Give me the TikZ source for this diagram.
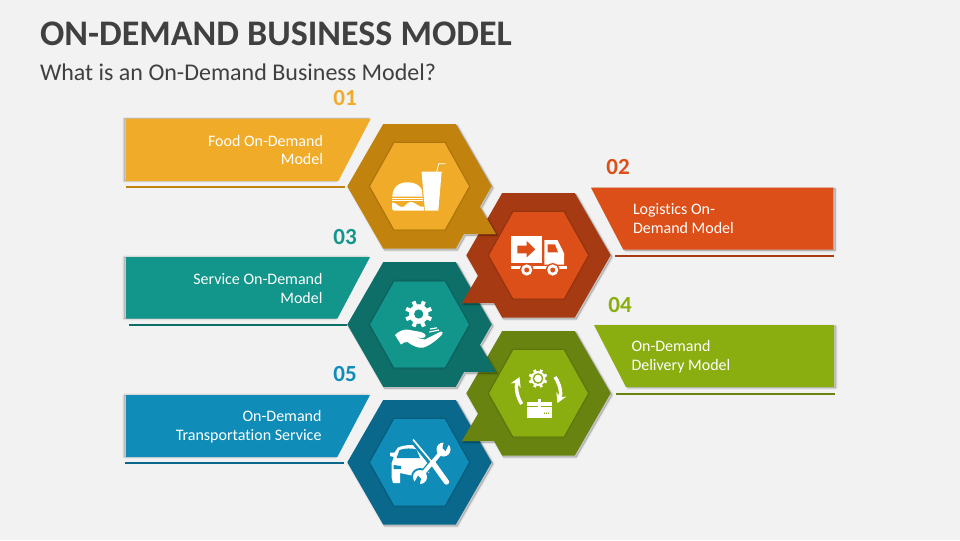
\documentclass[tikz,border=0pt]{standalone}
\usepackage{fontspec}
\setmainfont[Ligatures=NoCommon]{Carlito}
\usetikzlibrary{arrows.meta}

\definecolor{pagebg}{HTML}{F2F2F2}
\definecolor{titlegrey}{HTML}{404040}
\definecolor{amberlt}{HTML}{F0AB28}
\definecolor{amberdk}{HTML}{C2830E}
\definecolor{rustlt}{HTML}{DC4F19}
\definecolor{rustdk}{HTML}{A63A12}
\definecolor{teallt}{HTML}{12958A}
\definecolor{tealdk}{HTML}{0E6E68}
\definecolor{limelt}{HTML}{8AAD10}
\definecolor{limedk}{HTML}{688310}
\definecolor{bluelt}{HTML}{0F8DB8}
\definecolor{bluedk}{HTML}{09688B}

\tikzset{
  every picture/.style={line width=0.75pt},
  softwide/.style={draw=black,opacity=0.05,line width=2.4pt,line join=round},
  softnarrow/.style={draw=black,fill=black,opacity=0.14,line width=0.7pt,line join=round},
  numlabel/.style={font=\fontsize{17.3}{17.3}\selectfont\bfseries},
  leftlabel/.style={font=\fontsize{12}{14.2}\selectfont,text=white,align=right,anchor=east,inner sep=0pt},
  rightlabel/.style={font=\fontsize{12}{14.2}\selectfont,text=white,align=left,anchor=west,inner sep=0pt},
  underline/.style={line width=1.4pt},
}

% shadow offset, fill colour, path
\newcommand{\softshape}[3]{
  \draw[softwide,shift={(#1)}] #3;
  \draw[softnarrow,shift={(#1)}] #3;
  \fill[#2] #3;
}
\newcommand{\innerhex}[1]{
  \softshape{0,0}{#1}{(-49.5,0) -- (-25.3,-43.2) -- (25.3,-43.2) -- (49.5,0) -- (25.3,43.2) -- (-25.3,43.2) -- cycle}
}
% centre x, centre y, side of the tail (1 right, -1 left), outer colour, inner colour
\newcommand{\hexcell}[5]{
  \begin{scope}[shift={(#1,#2)},xscale=#3]
    \softshape{1.5*#3,1.5}{#4}{(-72.2,0) -- (-36.3,-62.3) -- (36.3,-62.3) -- (72.2,0) -- (60.5,20.4) -- (76.5,47.7) -- (44.5,47.7) -- (36.3,62.3) -- (-36.3,62.3) -- cycle}
    \innerhex{#5}
  \end{scope}
}
% centre x, centre y, tooth radius, body radius, hole radius, colour of the hole
\newcommand{\gearicon}[6]{
  \begin{scope}[shift={(#1,#2)}]
    \fill[white] (0,0) circle (#4);
    \foreach \ang in {0,45,...,315}
      \draw[draw=white,line width=#3*0.22pt] (\ang+22.5:#4-1) -- (\ang+22.5:#3);
    \fill[#6] (0,0) circle (#5);
  \end{scope}
}

\begin{document}
\begin{tikzpicture}[x=0.75pt,y=0.75pt,yscale=-1]
  \useasboundingbox (0,0) rectangle (960,540);
  \fill[pagebg] (0,0) rectangle (960,540);

  % Text Node
  \node[anchor=base west,inner sep=0pt,text=titlegrey,font=\fontsize{27}{27}\selectfont\bfseries] (title) at (39.5,45) {ON-DEMAND BUSINESS MODEL};
  % Text Node
  \node[anchor=base west,inner sep=0pt,text=titlegrey,font=\fontsize{18}{18}\selectfont] (subtitle) at (39.5,80.5) {What is an On-Demand Business Model?};

  %Shape: left bars
  \softshape{-2,0}{amberlt}{(126,118.7) -- (370.7,118.7) -- (338.3,181) -- (126,181) -- cycle}
  \draw[underline,amberdk] (126,186.7) -- (345,186.7);
  \softshape{-2,0}{teallt}{(126,257) -- (370,257) -- (337.3,318.7) -- (126,318.7) -- cycle}
  \draw[underline,tealdk] (129,324.7) -- (347,324.7);
  \softshape{-2,0}{bluelt}{(126,395) -- (370,395) -- (337.3,457) -- (126,457) -- cycle}
  \draw[underline,bluedk] (125,463) -- (344,463);

  %Shape: right bars
  \softshape{2,1}{rustlt}{(591,187.7) -- (833.3,187.7) -- (833.3,249.7) -- (623.3,249.7) -- cycle}
  \draw[underline,rustdk] (615,256) -- (834,256);
  \softshape{2,1}{limelt}{(594,325) -- (834,325) -- (834,387) -- (626,387) -- cycle}
  \draw[underline,limedk] (616,393.8) -- (835,393.8);

  %Shape: hexagons, lowest first
  \begin{scope}[shift={(419.5,462.3)}]
    \softshape{1.5,1.5}{bluedk}{(-72.2,0) -- (-36.3,-62.3) -- (36.3,-62.3) -- (72.2,0) -- (36.3,62.3) -- (-36.3,62.3) -- cycle}
    \innerhex{bluelt}
  \end{scope}
  \hexcell{538.5}{393.3}{-1}{limedk}{limelt}
  \hexcell{419.5}{324.5}{1}{tealdk}{teallt}
  \hexcell{538.5}{255.3}{-1}{rustdk}{rustlt}
  \hexcell{419.5}{186.3}{1}{amberdk}{amberlt}

  % Text Node
  \node[numlabel,text=amberlt] (numone) at (345,98) {01};
  \node[numlabel,text=rustlt] (numtwo) at (618,167.5) {02};
  \node[numlabel,text=teallt] (numthree) at (345,237.5) {03};
  \node[numlabel,text=limelt] (numfour) at (620,305) {04};
  \node[numlabel,text=bluelt] (numfive) at (345,374.5) {05};

  % Text Node
  \node[leftlabel] (food) at (323.5,150) {Food On-Demand\\Model};
  \node[rightlabel] (logistics) at (632.5,218.5) {Logistics On-\\Demand Model};
  \node[leftlabel] (service) at (323,288.5) {Service On-Demand\\Model};
  \node[rightlabel] (delivery) at (631,356.5) {On-Demand\\Delivery Model};
  \node[leftlabel] (transport) at (322,426.5) {On-Demand\\Transportation Service};

  %Icon: burger and cup
  \fill[white] (392.3,196.7) .. controls (392.5,187) and (399,182.3) .. (407.3,182.3) .. controls (414,182.3) and (419,184.5) .. (421.5,189) -- (422.7,196.7) -- cycle;
  \fill[white] (392.3,197.8) rectangle (423,199.2);
  \fill[white] (392.3,200.2) rectangle (423.2,201.4);
  \fill[white] (392,202.6) .. controls (397,202.6) and (398,207) .. (402,207) .. controls (406,207) and (406,202) .. (411,202) .. controls (416,202) and (417,207) .. (424,207) -- (424,210.7) -- (394,210.7) -- (392,209) -- cycle;
  \fill[white] (421.5,171.7) -- (441.7,171.7) -- (438.3,210.7) -- (425,210.7) -- cycle;
  \draw[white,line width=0.6pt] (436.7,171.7) -- (438.7,163.7) -- (445.7,163.7);

  %Icon: truck
  \fill[white] (510.7,236.3) rectangle (541.7,262.7);
  \fill[rustlt] (517.3,245.7) -- (526.7,245.7) -- (526.7,241) -- (535.3,249.3) -- (526.7,257.3) -- (526.7,253.3) -- (517.3,253.3) -- cycle;
  \fill[white] (544.3,240) -- (557.5,240) -- (564,253.3) -- (564,264.5) -- (544.3,264.5) -- cycle;
  \fill[rustlt] (547.7,244.3) -- (555,244.3) -- (558,252.3) -- (547.7,252.3) -- cycle;
  \fill[white] (510.7,265.5) rectangle (566.9,269.3);
  \foreach \wheelx in {526.7,552.7}{
    \fill[rustlt] (\wheelx,270) circle (6.9);
    \fill[white] (\wheelx,270) circle (5.6);
    \fill[rustlt] (\wheelx,270) circle (2.5);
  }

  %Icon: gear on a hand
  \gearicon{418.7}{314}{13.6}{9.8}{4.6}{teallt}
  \fill[white] (395,335) .. controls (399,331) and (403,329.5) .. (407,329.5) -- (421,332) .. controls (427,333.5) and (427,338) .. (422,338) -- (413,337) -- (425,339.5) -- (440.5,331.5) .. controls (442.5,331) and (443.5,333) .. (442,334.5) .. controls (437,340) and (430,345.5) .. (423,347.7) .. controls (418,348.5) and (412,345.5) .. (407.5,342) .. controls (405,341.5) and (403,343) .. (401,344.5) -- cycle;
  \draw[white,line width=0.9pt] (430,329) -- (437,327.8);
  \draw[white,line width=0.9pt] (429.3,332) -- (439,330);

  %Icon: gear, turning arrows and parcel
  \gearicon{538}{378.5}{9.4}{7.4}{5.4}{limelt}
  \fill[white] (538,378.5) circle (3.8);
  \draw[white,line width=2.6pt,-{Stealth[length=7pt,width=8pt]}] (521.7,404) .. controls (516.5,396) and (515.5,386) .. (519.5,377);
  \draw[white,line width=2.6pt,-{Stealth[length=7pt,width=8pt]}] (555,377) .. controls (560.5,385) and (561.5,394) .. (557.5,403);
  \fill[white] (527.3,401.7) rectangle (551.7,405.6);
  \fill[white] (527.3,407) rectangle (551.7,418.3);
  \fill[white] (537.8,399) rectangle (541.4,409.5);
  \fill[limelt] (544,412.6) rectangle (545,413.8) (546,412.6) rectangle (547,413.8) (548,412.6) rectangle (549,413.8);

  %Icon: car, spanner and screwdriver
  \fill[white] (398,447.5) .. controls (405,444.5) and (415,444.5) .. (418,446) -- (429,462) -- (429,473) -- (423,475) -- (423,478) -- (400,473) -- (400,483) -- (393,483) -- (391.7,478) -- (391.7,463) -- (393.8,457) -- (390,456) -- (390,452.5) -- (394.5,452.5) -- cycle;
  \fill[bluelt] (399.5,450) .. controls (405,448) and (412,448) .. (416.5,449.5) -- (420,458) -- (396.5,458) -- cycle;
  \fill[bluelt] (393.5,465) -- (401,466) -- (401,469) -- (393.5,469) -- cycle;
  \draw[bluelt,line width=5pt] (414,441) -- (449,484);
  \draw[bluelt,line width=5pt] (443,450) -- (420,477);
  \fill[bluelt] (420,477) circle (9);
  \draw[white,line width=3pt] (443,450) -- (420,477);
  \fill[white] (443.5,449.5) circle (7);
  \fill[white] (420,477) circle (7);
  \fill[bluelt] (442.5,448) -- (444,440) -- (450,442) -- (445.5,451) -- cycle;
  \fill[bluelt] (421,478.5) -- (419.5,486) -- (413.5,484) -- (418,475.5) -- cycle;
  \draw[white,line width=1.2pt] (413,439.5) -- (431,461);
  \draw[white,line width=4pt,line cap=round] (432.5,462.5) -- (446.5,482);

\end{tikzpicture}
\end{document}
